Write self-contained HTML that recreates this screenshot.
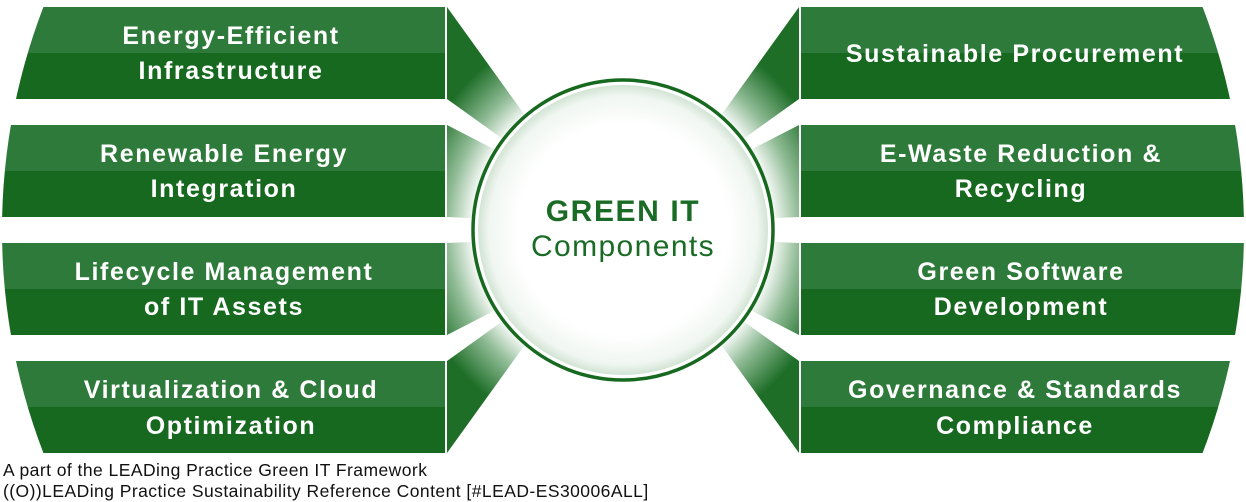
<!DOCTYPE html>
<html><head><meta charset="utf-8"><style>
html,body{margin:0;padding:0;background:#fff;width:1246px;height:502px;overflow:hidden}
svg{display:block}
.t{font-family:"Liberation Sans",Arial,sans-serif;font-weight:bold;font-size:25px;fill:#fff;text-anchor:middle;letter-spacing:1.6px}
.f{font-family:"Liberation Sans",Arial,sans-serif;font-size:17.5px;fill:#111;letter-spacing:0.45px}
</style></head><body>
<svg width="1246" height="502" viewBox="0 0 1246 502" xmlns="http://www.w3.org/2000/svg">
<defs>
<clipPath id="arc"><circle cx="623" cy="230" r="621"/></clipPath>
<radialGradient id="wg" cx="623" cy="230" r="215" gradientUnits="userSpaceOnUse">
<stop offset="0" stop-color="#fff"/><stop offset="0.69" stop-color="#fff"/><stop offset="0.82" stop-color="#8fbb95"/><stop offset="1" stop-color="#1e6e28"/></radialGradient>
<radialGradient id="cg" cx="623" cy="230" r="146" gradientUnits="userSpaceOnUse">
<stop offset="0" stop-color="#fff"/><stop offset="0.72" stop-color="#fff"/><stop offset="0.92" stop-color="#f0f6f1"/><stop offset="1" stop-color="#cfe2d1"/></radialGradient>
</defs>
<!-- connectors -->
<g fill="url(#wg)">
<polygon points="447,7 560,164 560,180 447,99"/>
<polygon points="447,125 560,183 560,222 447,217"/>
<polygon points="447,243 560,238 560,277 447,335"/>
<polygon points="447,361 560,280 560,296 447,453"/>
<polygon points="799,7 686,164 686,180 799,99"/>
<polygon points="799,125 686,183 686,222 799,217"/>
<polygon points="799,243 686,238 686,277 799,335"/>
<polygon points="799,361 686,280 686,296 799,453"/>
</g>
<!-- boxes -->
<g clip-path="url(#arc)">
<rect x="0" y="7" width="445" height="46" fill="#2e7a3a"/><rect x="0" y="53" width="445" height="46" fill="#16691f"/>
<rect x="0" y="125" width="445" height="46" fill="#2e7a3a"/><rect x="0" y="171" width="445" height="46" fill="#16691f"/>
<rect x="0" y="243" width="445" height="46" fill="#2e7a3a"/><rect x="0" y="289" width="445" height="46" fill="#16691f"/>
<rect x="0" y="361" width="445" height="46" fill="#2e7a3a"/><rect x="0" y="407" width="445" height="46" fill="#16691f"/>
<rect x="801" y="7" width="445" height="46" fill="#2e7a3a"/><rect x="801" y="53" width="445" height="46" fill="#16691f"/>
<rect x="801" y="125" width="445" height="46" fill="#2e7a3a"/><rect x="801" y="171" width="445" height="46" fill="#16691f"/>
<rect x="801" y="243" width="445" height="46" fill="#2e7a3a"/><rect x="801" y="289" width="445" height="46" fill="#16691f"/>
<rect x="801" y="361" width="445" height="46" fill="#2e7a3a"/><rect x="801" y="407" width="445" height="46" fill="#16691f"/>
</g>
<!-- circle -->
<circle cx="623" cy="230" r="150" fill="#fff" stroke="#16691f" stroke-width="3.5"/>
<circle cx="623" cy="230" r="145" fill="url(#cg)"/>
<text x="623" y="221" font-family="Liberation Sans,Arial,sans-serif" font-weight="bold" font-size="30" fill="#1a6b25" text-anchor="middle" letter-spacing="1.6">GREEN IT</text>
<text x="623" y="256" font-family="Liberation Sans,Arial,sans-serif" font-size="30" fill="#1a6b25" text-anchor="middle" letter-spacing="1.4">Components</text>
<!-- labels -->
<text class="t" x="231" y="44">Energy-Efficient</text>
<text class="t" x="231" y="79">Infrastructure</text>
<text class="t" x="224" y="162">Renewable Energy</text>
<text class="t" x="224" y="197">Integration</text>
<text class="t" x="224" y="280">Lifecycle Management</text>
<text class="t" x="224" y="315">of IT Assets</text>
<text class="t" x="231" y="398">Virtualization &amp; Cloud</text>
<text class="t" x="231" y="434">Optimization</text>
<text class="t" x="1015" y="62">Sustainable Procurement</text>
<text class="t" x="1021" y="162">E-Waste Reduction &amp;</text>
<text class="t" x="1021" y="197">Recycling</text>
<text class="t" x="1021" y="280">Green Software</text>
<text class="t" x="1021" y="315">Development</text>
<text class="t" x="1015" y="398">Governance &amp; Standards</text>
<text class="t" x="1015" y="434">Compliance</text>
<!-- footer -->
<text class="f" x="3" y="476">A part of the LEADing Practice Green IT Framework</text>
<text class="f" x="3" y="497">((O))LEADing Practice Sustainability Reference Content [#LEAD-ES30006ALL]</text>
</svg>
</body></html>
